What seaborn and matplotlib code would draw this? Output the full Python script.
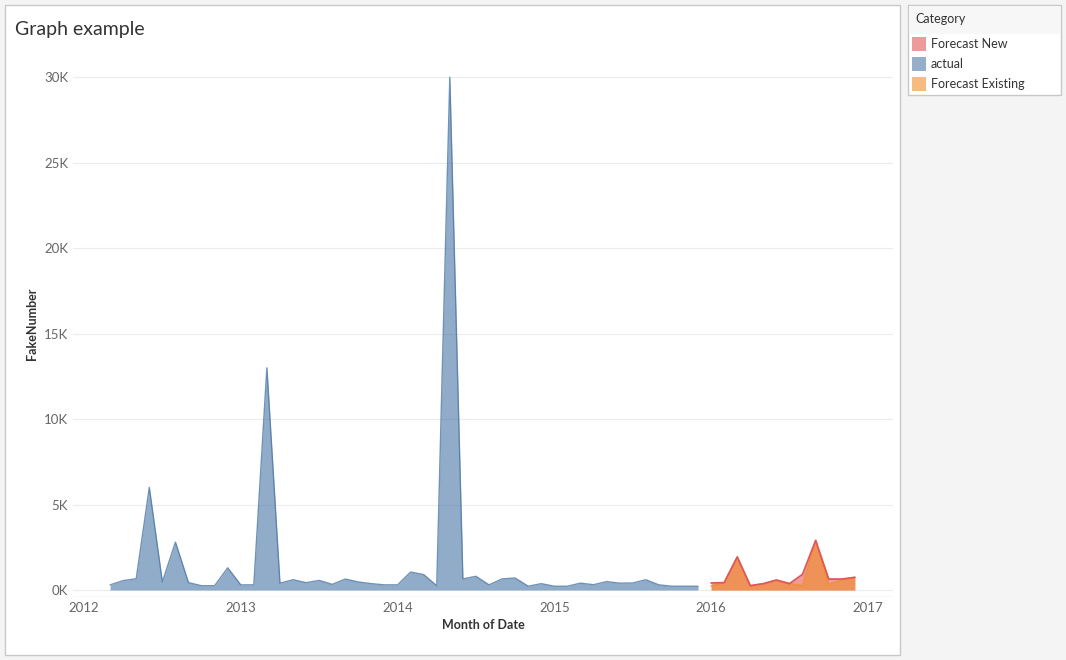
import numpy as np
import pandas as pd
import matplotlib
matplotlib.use("Agg")
import matplotlib.pyplot as plt
import seaborn as sns
from matplotlib.patches import Rectangle
from matplotlib.ticker import FuncFormatter

# === Data (values in thousands) ===
actual_months = pd.date_range("2012-03-01", "2015-12-01", freq="MS")
actual_values = [0.3, 0.55, 0.66, 6.0, 0.47, 2.8, 0.43, 0.25, 0.25, 1.3,
                 0.3, 0.3, 13.0, 0.4, 0.6, 0.43, 0.56, 0.33, 0.64, 0.47, 0.37, 0.3,
                 0.3, 1.05, 0.9, 0.25, 30.0, 0.65, 0.8, 0.3, 0.65, 0.7, 0.22, 0.37,
                 0.22, 0.22, 0.4, 0.31, 0.49, 0.4, 0.41, 0.6, 0.3, 0.22, 0.22, 0.22]
forecast_months = pd.date_range("2016-01-01", "2016-12-01", freq="MS")
forecast_existing = [0.23, 0.43, 1.93, 0.25, 0.37, 0.58, 0.37, 0.25, 2.9, 0.31, 0.6, 0.74]
forecast_new = [0.18, 0.0, 0.0, 0.0, 0.0, 0.0, 0.0, 0.67, 0.0, 0.33, 0.04, 0.0]

def to_year(dates):
    return np.array([d.year + (d.month - 1) / 12 for d in dates])

x_act = to_year(actual_months)
x_fc = to_year(forecast_months)
y_act = np.array(actual_values) * 1000
y_ex = np.array(forecast_existing) * 1000
y_top = y_ex + np.array(forecast_new) * 1000

blue, orange, red = "#4e79a7", "#f28e2b", "#e15759"

# === Figure ===
sns.set_style("white")
plt.rcParams["font.family"] = ["Lato", "DejaVu Sans"]
fig = plt.figure(figsize=(10.66, 6.6), dpi=100, facecolor="#f4f4f4")
fig.patches.append(Rectangle((5 / 1066, 5 / 660), 895 / 1066, 650 / 660, transform=fig.transFigure,
                             facecolor="white", edgecolor="#c8c8c8", lw=1, zorder=-10))
ax = fig.add_axes([73 / 1066, 63 / 660, 820 / 1066, 547 / 660])
ax.set_zorder(5)
ax.set_facecolor("white")

ax.fill_between(x_act, 0, y_act, color=blue, alpha=0.62, lw=0)
sns.lineplot(x=x_act, y=y_act, ax=ax, color=blue, lw=1, alpha=0.8)
ax.fill_between(x_fc, 0, y_top, color=red, alpha=0.6, lw=0)
ax.fill_between(x_fc, 0, y_ex, color=orange, alpha=0.6, lw=0)
sns.lineplot(x=x_fc, y=y_ex, ax=ax, color=orange, lw=1)
sns.lineplot(x=x_fc, y=y_top, ax=ax, color=red, lw=1.3)

ax.set_xlim(2011.93, 2017.16)
ax.set_ylim(-410, 31600)
ax.set_xticks([2012, 2013, 2014, 2015, 2016, 2017])
ax.set_xticklabels(["2012", "2013", "2014", "2015", "2016", "2017"])
ax.set_yticks(np.arange(0, 30001, 5000))
ax.yaxis.set_major_formatter(FuncFormatter(lambda v, p: f"{int(v / 1000)}K"))
ax.tick_params(colors="#666666", labelsize=9.5, length=0)
ax.grid(axis="y", color="#ececec", lw=0.8)
for s in ax.spines.values():
    s.set_visible(False)
ax.axhline(-410, color="#e0e0e0", lw=1)
ax.set_xlabel("Month of Date", fontsize=9, color="#333333", fontweight="bold")
ax.set_ylabel("FakeNumber", fontsize=9, color="#333333", fontweight="bold")

fig.text(15 / 1066, 1 - 30 / 660, "Graph example", fontsize=14, color="#333333", va="center")

# === Legend box ===
fig.patches.append(Rectangle((908 / 1066, 565 / 660), 153 / 1066, 90 / 660, transform=fig.transFigure,
                             facecolor="white", edgecolor="#c8c8c8", lw=1))
fig.patches.append(Rectangle((909 / 1066, 626 / 660), 151 / 1066, 28 / 660, transform=fig.transFigure,
                             facecolor="#f7f7f7", edgecolor="none"))
fig.text(915 / 1066, 1 - 19 / 660, "Category", fontsize=9, color="#333333", va="center")
for i, (lab, col) in enumerate([("Forecast New", red), ("actual", blue), ("Forecast Existing", orange)]):
    yc = 44 + 20 * i
    fig.patches.append(Rectangle((912 / 1066, 1 - (yc + 7) / 660), 14 / 1066, 14 / 660,
                                 transform=fig.transFigure, facecolor=col, alpha=0.6, edgecolor="none"))
    fig.text(931 / 1066, 1 - yc / 660, lab, fontsize=9, color="#333333", va="center")

fig.savefig("out.png", dpi=100, facecolor=fig.get_facecolor())
